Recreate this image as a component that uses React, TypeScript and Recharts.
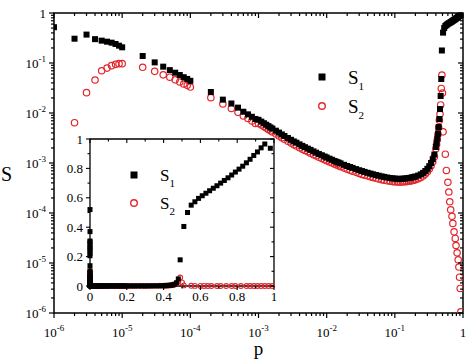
import { ScatterChart, Scatter, XAxis, YAxis, ReferenceArea, Legend } from 'recharts';

const SERIF = '"Liberation Serif", "Times New Roman", serif';
const RED = '#e3262c';

// log-log main axes
const decadeValues = [1e-6, 1e-5, 1e-4, 1e-3, 1e-2, 1e-1, 1];
const decadeExponents = ['-6', '-5', '-4', '-3', '-2', '-1', ''];
const minorSteps = [2, 3, 4, 5, 6, 7, 8, 9];

// linear inset axes
const insetTicks = [0, 0.1, 0.2, 0.3, 0.4, 0.5, 0.6, 0.7, 0.8, 0.9, 1];
const insetLabels = ['0', '', '0.2', '', '0.4', '', '0.6', '', '0.8', '', '1'];

// sparse part of the scan, p = 1e-6 .. 9e-4
const pEarly = [
  1e-6, 2e-6, 3e-6, 4e-6, 5e-6, 6e-6, 7e-6, 8e-6, 9e-6,
  1e-5, 2e-5, 3e-5, 4e-5, 5e-5, 6e-5, 7e-5, 8e-5, 9e-5,
  1e-4, 2e-4, 3e-4, 4e-4, 5e-4, 6e-4, 7e-4, 8e-4, 9e-4,
];
const s1Early = [
  0.52, 0.306, 0.37, 0.3, 0.28, 0.267, 0.255, 0.24, 0.222,
  0.206, 0.138, 0.103, 0.0845, 0.072, 0.064, 0.0575, 0.052, 0.048,
  0.044, 0.0263, 0.0185, 0.0155, 0.0128, 0.0106, 0.0094, 0.0084, 0.0076,
];
const s2Early = [
  null, 0.0064, 0.0255, 0.0457, 0.07, 0.079, 0.0885, 0.094, 0.097,
  0.097, 0.082, 0.068, 0.058, 0.052, 0.046, 0.0417, 0.038, 0.0357,
  0.033, 0.0203, 0.0152, 0.0123, 0.0103, 0.0087, 0.0078, 0.0069, 0.0062,
];

// dense part, p = 1e-3 .. 0.48
const pDense = [
  0.001, 0.0011, 0.0012, 0.0013, 0.0014, 0.0015, 0.0016, 0.0018, 0.002, 0.0022, 0.0024, 0.0027, 0.003,
  0.0033, 0.0036, 0.004, 0.0044, 0.0048, 0.0053, 0.0058, 0.0064, 0.007, 0.0077, 0.0085, 0.0093,
  0.01, 0.011, 0.012, 0.013, 0.014, 0.015, 0.016, 0.018, 0.02, 0.022, 0.024, 0.027, 0.03,
  0.033, 0.036, 0.04, 0.044, 0.048, 0.053, 0.058, 0.064, 0.07, 0.077, 0.085, 0.093,
  0.1, 0.11, 0.12, 0.13, 0.14, 0.15, 0.16, 0.17, 0.18, 0.19, 0.2,
  0.22, 0.24, 0.26, 0.28, 0.3, 0.32, 0.34, 0.36, 0.38, 0.4,
  0.41, 0.42, 0.43, 0.44, 0.45, 0.46, 0.47, 0.48,
];
const s1Dense = [
  7.31e-3, 6.73e-3, 6.25e-3, 5.83e-3, 5.47e-3, 5.15e-3, 4.88e-3, 4.43e-3, 4.06e-3, 3.73e-3, 3.47e-3, 3.16e-3, 2.91e-3,
  2.7e-3, 2.55e-3, 2.36e-3, 2.2e-3, 2.07e-3, 1.94e-3, 1.83e-3, 1.71e-3, 1.61e-3, 1.51e-3, 1.43e-3, 1.35e-3,
  1.29e-3, 1.22e-3, 1.16e-3, 1.1e-3, 1.06e-3, 1.02e-3, 9.82e-4, 9.2e-4, 8.71e-4, 8.32e-4, 7.98e-4, 7.55e-4, 7.18e-4,
  6.89e-4, 6.64e-4, 6.37e-4, 6.14e-4, 5.94e-4, 5.75e-4, 5.57e-4, 5.4e-4, 5.27e-4, 5.13e-4, 5.01e-4, 4.94e-4,
  4.88e-4, 4.83e-4, 4.83e-4, 4.85e-4, 4.9e-4, 4.94e-4, 5.01e-4, 5.08e-4, 5.18e-4, 5.27e-4, 5.37e-4,
  5.6e-4, 5.92e-4, 6.34e-4, 6.92e-4, 7.66e-4, 8.63e-4, 1.0e-3, 1.19e-3, 1.48e-3, 2.09e-3,
  2.51e-3, 3.09e-3, 3.89e-3, 5.25e-3, 7.59e-3, 0.012, 0.0219, 0.0479,
];
const s2Dense = [
  6.2e-3, 5.75e-3, 5.35e-3, 4.99e-3, 4.68e-3, 4.41e-3, 4.18e-3, 3.8e-3, 3.48e-3, 3.2e-3, 2.98e-3, 2.72e-3, 2.5e-3,
  2.32e-3, 2.19e-3, 2.03e-3, 1.89e-3, 1.78e-3, 1.67e-3, 1.57e-3, 1.47e-3, 1.39e-3, 1.3e-3, 1.23e-3, 1.16e-3,
  1.11e-3, 1.05e-3, 1.0e-3, 9.5e-4, 9.1e-4, 8.8e-4, 8.45e-4, 7.9e-4, 7.5e-4, 7.15e-4, 6.85e-4, 6.5e-4, 6.17e-4,
  5.92e-4, 5.7e-4, 5.48e-4, 5.28e-4, 5.11e-4, 4.94e-4, 4.79e-4, 4.64e-4, 4.53e-4, 4.41e-4, 4.31e-4, 4.25e-4,
  4.2e-4, 4.15e-4, 4.15e-4, 4.17e-4, 4.21e-4, 4.25e-4, 4.31e-4, 4.37e-4, 4.45e-4, 4.53e-4, 4.62e-4,
  4.82e-4, 5.1e-4, 5.48e-4, 6.0e-4, 6.65e-4, 7.55e-4, 8.8e-4, 1.06e-3, 1.34e-3, 1.92e-3,
  2.35e-3, 2.95e-3, 3.75e-3, 5.1e-3, 7.2e-3, 0.0095, 0.0145, 0.031,
];

// above the transition
const pS1Jump = [0.49, 0.51, 0.53, 0.55, 0.57, 0.59, 0.61, 0.63, 0.65, 0.67, 0.69, 0.71, 0.73, 0.75, 0.77, 0.79, 0.81, 0.83, 0.85, 0.87, 0.89, 0.91, 0.93, 0.95, 0.98];
const s1Jump = [0.178, 0.405, 0.5, 0.55, 0.573, 0.596, 0.614, 0.631, 0.648, 0.665, 0.682, 0.7, 0.718, 0.736, 0.755, 0.775, 0.795, 0.815, 0.838, 0.862, 0.888, 0.912, 0.94, 0.966, 0.937];
const pS2Jump = [0.49, 0.5, 0.51, 0.55, 0.57, 0.6, 0.62, 0.64, 0.66, 0.69, 0.71, 0.74, 0.77, 0.79, 0.82, 0.85, 0.87, 0.89, 0.91, 0.93, 0.95, 0.97, 0.99];
const s2Jump = [0.0575, 0.025, 0.0042, 1.5e-3, 7.1e-4, 4.1e-4, 2.63e-4, 1.68e-4, 1.16e-4, 8.6e-5, 6.2e-5, 4.2e-5, 3.1e-5, 2.24e-5, 1.6e-5, 1.16e-5, 8.3e-6, 5.2e-6, 3.1e-6, 1.06e-6, 4e-7, 2e-7, 1e-7];

const pairs = (ps: number[], ss: (number | null)[]) =>
  ps.map((p, i) => ({ p, s: ss[i] })).filter((d) => d.s != null);

const s1Data = [...pairs(pEarly, s1Early), ...pairs(pDense, s1Dense), ...pairs(pS1Jump, s1Jump)];
const s2Data = [...pairs(pEarly, s2Early), ...pairs(pDense, s2Dense), ...pairs(pS2Jump, s2Jump)];

const logTicks = decadeValues.flatMap((d, i) => (i < decadeValues.length - 1 ? [d, ...minorSteps.map((m) => m * d)] : [d]));

// plot box of the main chart (page pixels)
const MAIN = { left: 54, right: 463, top: 13, bottom: 313 };
// inset chart placement on the page, and its plot box in its own svg
const INSET_POS = { left: 40, top: 130 };
const INSET = { left: 50, right: 234, top: 9, bottom: 156 };

const decadeIndex = (v: number) => decadeValues.findIndex((d) => Math.abs(v / d - 1) < 1e-6);

const DecadeLabel = ({ i }: { i: number }) =>
  decadeExponents[i] === '' ? <>1</> : (
    <>
      10<tspan dy={-6} fontSize={9}>{decadeExponents[i]}</tspan>
    </>
  );

const mainXTick = (props: any) => {
  const { x, y, payload } = props;
  const i = decadeIndex(payload.value);
  const len = i >= 0 ? 5 : 3;
  return (
    <g>
      <line x1={x} x2={x} y1={y} y2={y + len} stroke="#000" strokeWidth={1.2} />
      <line x1={x} x2={x} y1={MAIN.top} y2={MAIN.top + len} stroke="#000" strokeWidth={1.2} />
      {i >= 0 && (
        <text x={x} y={y + 24} textAnchor="middle" fontFamily={SERIF} fontSize={13} fill="#000">
          <DecadeLabel i={i} />
        </text>
      )}
    </g>
  );
};

const mainYTick = (props: any) => {
  const { x, y, payload } = props;
  const i = decadeIndex(payload.value);
  const len = i >= 0 ? 5 : 3;
  return (
    <g>
      <line x1={x - len} x2={x} y1={y} y2={y} stroke="#000" strokeWidth={1.2} />
      <line x1={MAIN.right - len} x2={MAIN.right} y1={y} y2={y} stroke="#000" strokeWidth={1.2} />
      {i >= 0 && (
        <text x={x - 8} y={y + 4.5} textAnchor="end" fontFamily={SERIF} fontSize={13} fill="#000">
          <DecadeLabel i={i} />
        </text>
      )}
    </g>
  );
};

const insetXTick = (props: any) => {
  const { x, y, index } = props;
  const label = insetLabels[index];
  const len = label ? 4 : 2.5;
  return (
    <g>
      <line x1={x} x2={x} y1={y} y2={y + len} stroke="#000" strokeWidth={1.1} />
      <line x1={x} x2={x} y1={INSET.top} y2={INSET.top + len} stroke="#000" strokeWidth={1.1} />
      {label && (
        <text x={x} y={y + 15} textAnchor="middle" fontFamily={SERIF} fontSize={13} fill="#000">
          {label}
        </text>
      )}
    </g>
  );
};

const insetYTick = (props: any) => {
  const { x, y, index } = props;
  const label = insetLabels[index];
  const len = label ? 4 : 2.5;
  return (
    <g>
      <line x1={x - len} x2={x} y1={y} y2={y} stroke="#000" strokeWidth={1.1} />
      <line x1={INSET.right - len} x2={INSET.right} y1={y} y2={y} stroke="#000" strokeWidth={1.1} />
      {label && (
        <text x={x - 7} y={y + 4.5} textAnchor="end" fontFamily={SERIF} fontSize={13} fill="#000">
          {label}
        </text>
      )}
    </g>
  );
};

const square = (size: number) => (props: any) => {
  const { cx, cy } = props;
  if (!Number.isFinite(cx) || !Number.isFinite(cy)) return <g />;
  return <rect x={cx - size / 2} y={cy - size / 2} width={size} height={size} fill="#000" />;
};

const ring = (r: number, w: number) => (props: any) => {
  const { cx, cy } = props;
  if (!Number.isFinite(cx) || !Number.isFinite(cy)) return <g />;
  return <circle cx={cx} cy={cy} r={r} fill="none" stroke={RED} strokeWidth={w} />;
};

const legendItems = ['1', '2'];

const LegendBox = ({ fontSize, gap }: { fontSize: number; gap: number }) => (
  <svg width={70} height={gap + 24} style={{ overflow: 'visible' }}>
    {legendItems.map((sub, i) => (
      <g key={sub}>
        {i === 0 ? (
          <rect x={6.5} y={6.5 + i * gap} width={7} height={7} fill="#000" />
        ) : (
          <circle cx={10} cy={10 + i * gap} r={3.3} fill="none" stroke={RED} strokeWidth={1.4} />
        )}
        <text x={36} y={10 + i * gap + fontSize * 0.36} fontFamily={SERIF} fontSize={fontSize} fill="#000">
          S<tspan dy={6} fontSize={11}>{sub}</tspan>
        </text>
      </g>
    ))}
  </svg>
);

export default function App() {
  return (
    <div style={{ position: 'absolute', left: 0, top: 0, width: 474, height: 361, background: '#fff' }}>
      <ScatterChart width={474} height={361} margin={{ top: 13, right: 11, bottom: 0, left: 0 }}>
        <XAxis
          dataKey="p"
          type="number"
          scale="log"
          domain={[1e-6, 1]}
          allowDataOverflow
          ticks={logTicks}
          interval={0}
          tickSize={0}
          tickMargin={0}
          tickLine={false}
          axisLine={false}
          height={48}
          tick={mainXTick}
          label={{ value: 'p', position: 'insideBottom', offset: 6, fontFamily: SERIF, fontSize: 19, fill: '#000' }}
        />
        <YAxis
          dataKey="s"
          type="number"
          scale="log"
          domain={[1e-6, 1]}
          allowDataOverflow
          ticks={logTicks}
          interval={0}
          tickSize={0}
          tickMargin={0}
          tickLine={false}
          axisLine={false}
          width={54}
          tick={mainYTick}
          label={{ value: 'S', position: 'insideLeft', offset: 1, dy: 11, fontFamily: SERIF, fontSize: 20, fill: '#000' }}
        />
        <ReferenceArea x1={1e-6} x2={1} y1={1e-6} y2={1} fill="none" stroke="#000" strokeWidth={1.5} />
        <Scatter name="S2" data={s2Data} shape={ring(3.2, 1.2)} isAnimationActive={false} />
        <Scatter name="S1" data={s1Data} shape={square(6)} isAnimationActive={false} />
        <Legend
          layout="vertical"
          align="center"
          verticalAlign="middle"
          wrapperStyle={{ left: 312, top: 67, width: 70 }}
          content={() => <LegendBox fontSize={19} gap={29} />}
        />
      </ScatterChart>

      <div
        style={{
          position: 'absolute',
          left: INSET_POS.left + INSET.left,
          top: INSET_POS.top + INSET.top,
          width: INSET.right - INSET.left,
          height: INSET.bottom - INSET.top,
          background: '#fff',
        }}
      />

      <div style={{ position: 'absolute', left: INSET_POS.left, top: INSET_POS.top }}>
        <ScatterChart width={245} height={185} margin={{ top: 9, right: 11, bottom: 0, left: 0 }}>
          <XAxis
            dataKey="p"
            type="number"
            domain={[0, 1]}
            ticks={insetTicks}
            interval={0}
            tickSize={0}
            tickMargin={0}
            tickLine={false}
            axisLine={false}
            height={29}
            tick={insetXTick}
          />
          <YAxis
            dataKey="s"
            type="number"
            domain={[0, 1]}
            ticks={insetTicks}
            interval={0}
            tickSize={0}
            tickMargin={0}
            tickLine={false}
            axisLine={false}
            width={50}
            tick={insetYTick}
          />
          <ReferenceArea x1={0} x2={1} y1={0} y2={1} fill="none" stroke="#000" strokeWidth={1.3} />
          <Scatter name="S2" data={s2Data} shape={ring(2.4, 1.1)} isAnimationActive={false} />
          <Scatter name="S1" data={s1Data} shape={square(5)} isAnimationActive={false} />
          <Legend
            layout="vertical"
            align="center"
            verticalAlign="middle"
            wrapperStyle={{ left: 84, top: 35, width: 70 }}
            content={() => <LegendBox fontSize={17} gap={28} />}
          />
        </ScatterChart>
      </div>
    </div>
  );
}
